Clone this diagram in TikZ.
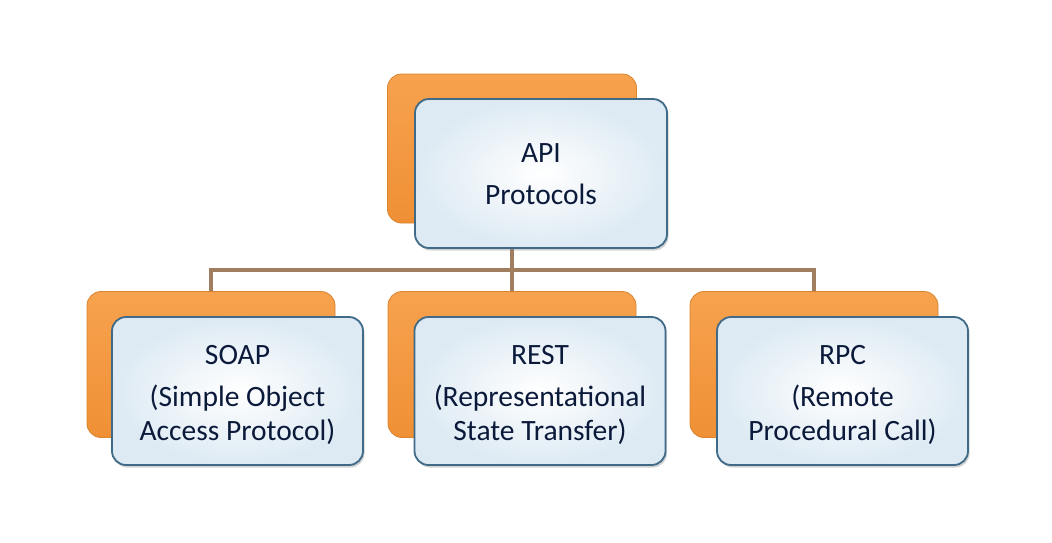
\documentclass[tikz,border=0pt]{standalone}
\usepackage{fontspec}
\setmainfont{Carlito}
\usetikzlibrary{shadows}
\definecolor{navy}{HTML}{0B1A3A}
\definecolor{connc}{HTML}{A27E60}
\definecolor{orA}{HTML}{F7A24E}
\definecolor{orB}{HTML}{EF9035}
\definecolor{orE}{HTML}{D98430}
\definecolor{wbE}{HTML}{3F6A88}
\definecolor{wbO}{HTML}{DDEAF3}
\tikzset{
  obox/.style={rounded corners=14pt, draw=orE, line width=0.8pt,
    top color=orA, bottom color=orB, minimum width=248pt, minimum height=146pt, inner sep=0pt},
  wbox/.style={rounded corners=14pt, draw=wbE, line width=1.8pt,
    inner color=white, outer color=wbO,
    drop shadow={shadow xshift=1.5pt, shadow yshift=-2.5pt, opacity=0.35, fill=gray},
    minimum width=251pt, minimum height=148pt, inner sep=0pt},
  btext/.style={font=\fontsize{29.5}{34}\selectfont, text=navy, align=center},
  conn/.style={draw=connc, line width=3.4pt},
}
\begin{document}
\begin{tikzpicture}[x=1pt,y=-1pt]
\useasboundingbox (0,0) rectangle (1052,542);
\fill[white] (0,0) rectangle (1052,542);
% orange back boxes
\node[obox, minimum width=249pt, minimum height=149pt] (otop) at (512,148.5) {};
\node[obox] (osoap) at (211,364.5) {};
\node[obox] (orest) at (512,364.5) {};
\node[obox] (orpc) at (814,364.5) {};
% connectors
\coordinate (bus) at (0,270);
\draw[conn] (otop.south) -- (otop.south |- bus) -| (osoap.north);
\draw[conn] (otop.south |- bus) -| (orpc.north);
\draw[conn] (otop.south) -- (orest.north);
% white front boxes
\node[wbox, minimum width=252pt, minimum height=149pt] (api) at (541,173.5) {};
\node[wbox] (soap) at (237.5,391) {};
\node[wbox] (rest) at (540,391) {};
\node[wbox] (rpc) at (842.5,391) {};
% texts
\node[btext] (apit) at ([yshift=-1pt]api.center) {API\\[8pt]Protocols};
\node[btext] (soapt) at ([yshift=-4pt]soap.center) {SOAP\\[8pt](Simple Object\\Access Protocol)};
\node[btext] (restt) at ([yshift=-4pt]rest.center) {REST\\[8pt](Representational\\State Transfer)};
\node[btext] (rpct) at ([yshift=-4pt]rpc.center) {RPC\\[8pt](Remote\\Procedural Call)};
\end{tikzpicture}
\end{document}
